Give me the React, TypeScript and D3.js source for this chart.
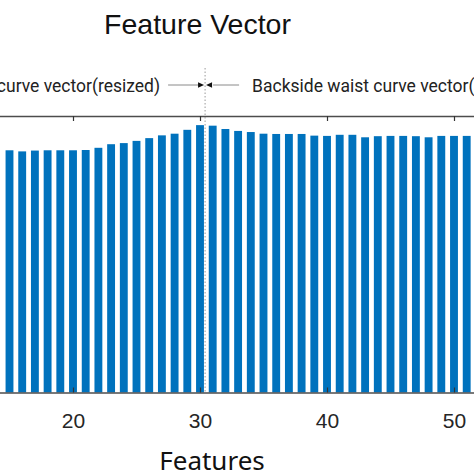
import React, { useEffect, useRef } from "react";
import * as d3 from "d3";

// feature index -> normalized value
const features = [15, 16, 17, 18, 19, 20, 21, 22, 23, 24, 25, 26, 27, 28, 29, 30, 31, 32, 33,
  34, 35, 36, 37, 38, 39, 40, 41, 42, 43, 44, 45, 46, 47, 48, 49, 50, 51];
const values = [0.876, 0.872, 0.875, 0.876, 0.876, 0.876, 0.877, 0.885, 0.898, 0.902, 0.910,
  0.920, 0.930, 0.936, 0.950, 0.967, 0.965, 0.953, 0.946, 0.942, 0.936, 0.935, 0.935, 0.935,
  0.929, 0.928, 0.932, 0.932, 0.923, 0.927, 0.928, 0.928, 0.927, 0.923, 0.928, 0.928, 0.928];
const xTicks = [20, 30, 40, 50];
const xDomain = [0, 52];
const yDomain = [0, 1];
const splitAt = 30.4;
const titleText = "Feature Vector";
const xLabel = "Features";
const leftNote = "Frontside waist curve vector(resized)";
const rightNote = "Backside waist curve vector(resized)";

export default function App() {
  const ref = useRef<SVGSVGElement>(null);

  useEffect(() => {
    const margin = { top: 116, right: -5.4, bottom: 81.5, left: -181 };
    const W = 474, H = 474;
    const width = W - margin.left - margin.right;
    const height = H - margin.top - margin.bottom;

    const root = d3.select(ref.current);
    root.selectAll("*").remove();

    const g = root.append("g")
      .attr("transform", "translate(" + margin.left + "," + margin.top + ")");

    const xScale = d3.scaleLinear().domain(xDomain).range([0, width]);
    const yScale = d3.scaleLinear().domain(yDomain).range([height, 0]);
    const step = xScale(1) - xScale(0);
    const barW = step * 0.62;

    const data = features.map((f, i) => ({ f, v: values[i] }));

    g.selectAll("rect.bar")
      .data(data)
      .enter().append("rect")
      .attr("class", "bar")
      .attr("x", d => xScale(d.f) - barW / 2)
      .attr("width", barW)
      .attr("y", d => yScale(d.v))
      .attr("height", d => height - yScale(d.v))
      .attr("fill", "#0072BD");

    // bottom axis, ticks pointing inward
    const xAxis = d3.axisBottom(xScale).tickValues(xTicks).tickSizeInner(-5).tickSizeOuter(0).tickPadding(21);
    const xg = g.append("g").attr("transform", "translate(0," + height + ")").call(xAxis);
    xg.select(".domain").attr("stroke", "#4d4d4d").attr("stroke-width", 1.6);
    xg.selectAll(".tick line").attr("stroke", "#333").attr("stroke-width", 1.2);
    xg.selectAll(".tick text")
      .attr("font-family", "'Liberation Sans', Arial, sans-serif")
      .attr("font-size", 21)
      .attr("fill", "#262626");

    const topAxis = d3.axisTop(xScale).tickValues(xTicks).tickSizeInner(-5).tickSizeOuter(0).tickFormat(() => "");
    const tg = g.append("g").call(topAxis);
    tg.select(".domain").attr("stroke", "#4d4d4d").attr("stroke-width", 1.6);
    tg.selectAll(".tick line").attr("stroke", "#333").attr("stroke-width", 1.2);

    // dotted split line
    const sx = xScale(splitAt);
    g.append("line")
      .attr("x1", sx).attr("x2", sx)
      .attr("y1", -48).attr("y2", height)
      .attr("stroke", "#9a9a9a")
      .attr("stroke-width", 1)
      .attr("stroke-dasharray", "1.5,2");

    // dimension arrows
    const ay = -31;
    g.append("line").attr("x1", sx - 37).attr("x2", sx - 6).attr("y1", ay).attr("y2", ay)
      .attr("stroke", "#8a8a8a").attr("stroke-width", 1);
    g.append("line").attr("x1", sx + 8).attr("x2", sx + 34).attr("y1", ay).attr("y2", ay)
      .attr("stroke", "#8a8a8a").attr("stroke-width", 1);
    g.append("path")
      .attr("d", "M" + (sx - 7) + "," + (ay - 2.8) + "L" + (sx - 1) + "," + ay + "L" + (sx - 7) + "," + (ay + 2.8) + "Z")
      .attr("fill", "#111");
    g.append("path")
      .attr("d", "M" + (sx + 7) + "," + (ay - 2.8) + "L" + (sx + 1) + "," + ay + "L" + (sx + 7) + "," + (ay + 2.8) + "Z")
      .attr("fill", "#111");

    const noteFont = "Roboto, 'Noto Sans', sans-serif";
    g.append("text")
      .attr("x", sx - 45).attr("y", ay + 7)
      .attr("text-anchor", "end")
      .attr("font-family", noteFont).attr("font-size", 17.5).attr("fill", "#222")
      .text(leftNote);
    g.append("text")
      .attr("x", sx + 47).attr("y", ay + 7)
      .attr("text-anchor", "start")
      .attr("font-family", noteFont).attr("font-size", 17.5).attr("fill", "#222")
      .text(rightNote);

    // title + x label
    root.append("text")
      .attr("x", 197.5).attr("y", 34)
      .attr("text-anchor", "middle")
      .attr("font-family", "'Liberation Sans', Arial, sans-serif")
      .attr("font-size", 28.5).attr("fill", "#111")
      .text(titleText);

    root.append("text")
      .attr("x", 212).attr("y", 470)
      .attr("text-anchor", "middle")
      .attr("font-family", "'Noto Sans', sans-serif")
      .attr("font-size", 26).attr("fill", "#111")
      .text(xLabel);
  }, []);

  return (
    <svg ref={ref} width={474} height={474}
      style={{ position: "absolute", left: 0, top: 0, background: "#fff" }} />
  );
}
